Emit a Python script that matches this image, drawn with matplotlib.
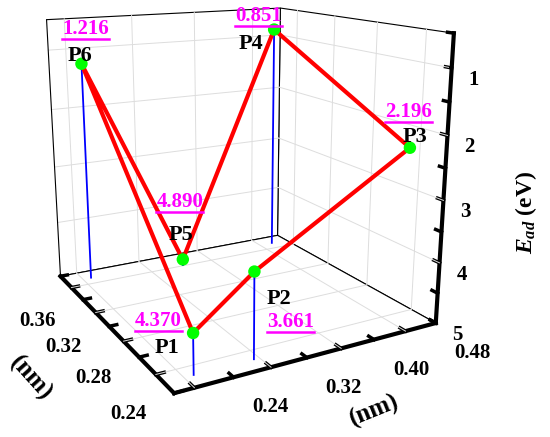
import matplotlib
matplotlib.use('Agg')
import matplotlib.pyplot as plt
from mpl_toolkits.mplot3d import proj3d
from matplotlib.lines import Line2D

plt.rcParams['font.family'] = ['Liberation Serif', 'DejaVu Serif']
plt.rcParams['font.weight'] = 'bold'
plt.rcParams['mathtext.fontset'] = 'custom'
plt.rcParams['mathtext.it'] = 'Liberation Serif:italic:bold'
plt.rcParams['mathtext.rm'] = 'Liberation Serif:bold'
for a in ['xtick', 'ytick']:
    plt.rcParams[a + '.major.width'] = 2.5
    plt.rcParams[a + '.color'] = 'black'

# adsorption sites: position (nm) and adsorption energy (eV)
names = ['P1', 'P2', 'P3', 'P4', 'P5', 'P6']
x_nm = [0.21, 0.274, 0.45, 0.458, 0.322, 0.21]
y_nm = [0.251, 0.251, 0.25, 0.389, 0.381, 0.389]
e_ad = [4.370, 3.661, 2.196, 0.851, 4.890, 1.216]
has_drop = [True, True, False, True, True, True]

x_ticks = [0.20, 0.24, 0.28, 0.32, 0.36, 0.40, 0.44, 0.48]
x_ticklabels = ['', '0.24', '', '0.32', '', '0.40', '', '0.48']
y_ticks = [0.24, 0.26, 0.28, 0.30, 0.32, 0.34, 0.36, 0.38, 0.40]
y_ticklabels = ['0.24', '', '0.28', '', '0.32', '', '0.36', '', '']
z_ticks = [0.5, 1, 1.5, 2, 2.5, 3, 3.5, 4, 4.5, 5]
z_ticklabels = ['', '1', '', '2', '', '3', '', '4', '', '5']
x_grid = [0.20, 0.28, 0.36, 0.44]
y_grid = [0.26, 0.30, 0.34, 0.38]
z_grid = [1, 2, 3, 4]

# label offsets in pixels from the dot (value label, name label)
val_off = [(-35, 12), (36, -50), (-1, 36), (-16, 14), (-3, 57), (4, 35)]
name_off = [(-26, -15), (25, -27), (5, 11), (-23, -14), (-2, 24), (-1, 8)]
# tick label offsets in pixels from the tick on the axis line
x_lab_off = (37, -30)
y_lab_off = (-46, -21)
z_lab_off = (22, -12)

xlim = (0.18, 0.48)
ylim = (0.24, 0.40)
zlim = (5, 0.5)

fig = plt.figure(figsize=(5.5, 4.37), dpi=100)
ax = fig.add_axes([-0.081, 0.103, 1.0, 1.0], projection='3d')
ax.computed_zorder = False
ax.set_proj_type('persp', focal_length=0.38)
ax.view_init(elev=15, azim=-119)
ax.set_box_aspect((1.05, 1.1, 1.05), zoom=1.1)

ax.set_xlim(*xlim)
ax.set_ylim(*ylim)
ax.set_zlim(*zlim)
ax.set_xticks(x_ticks)
ax.set_xticklabels([''] * len(x_ticks))
ax.set_yticks(y_ticks)
ax.set_yticklabels([''] * len(y_ticks))
ax.set_zticks(z_ticks)
ax.set_zticklabels([''] * len(z_ticks))
ax.grid(False)
ax.zaxis.set_ticks_position('lower')
ax.zaxis.set_label_position('lower')

for axis in [ax.xaxis, ax.yaxis, ax.zaxis]:
    axis.set_pane_color((1, 1, 1, 1))
    axis.pane.set_edgecolor('black')
    axis.pane.set_linewidth(0.8)
    axis.line.set_linewidth(3)
    axis.line.set_color('black')
    axis._axinfo['tick']['inward_factor'] = 0.0
    axis._axinfo['tick']['outward_factor'] = 0.35

# light grid on the back walls and floor
gc = dict(color='#dddddd', lw=0.7, zorder=0.5)
for gx in x_grid:
    ax.plot([gx, gx], [ylim[0], ylim[1]], [zlim[0], zlim[0]], **gc)
    ax.plot([gx, gx], [ylim[1], ylim[1]], [zlim[0], zlim[1]], **gc)
for gy in y_grid:
    ax.plot([xlim[0], xlim[1]], [gy, gy], [zlim[0], zlim[0]], **gc)
    ax.plot([xlim[1], xlim[1]], [gy, gy], [zlim[0], zlim[1]], **gc)
for gz in z_grid:
    ax.plot([xlim[0], xlim[1]], [ylim[1], ylim[1]], [gz, gz], **gc)
    ax.plot([xlim[1], xlim[1]], [ylim[0], ylim[1]], [gz, gz], **gc)
# thin box edge at the far left
ax.plot([xlim[0], xlim[0]], [ylim[1], ylim[1]], [zlim[0], zlim[1]],
        color='black', lw=0.8, zorder=0.6)

for i in range(len(names)):
    if has_drop[i]:
        ax.plot([x_nm[i], x_nm[i]], [y_nm[i], y_nm[i]], [e_ad[i], zlim[0]],
                color='#0000ff', lw=1.3, zorder=1)

px = x_nm + [x_nm[0]]
py = y_nm + [y_nm[0]]
pz = e_ad + [e_ad[0]]
ax.plot(px, py, pz, color='#ff0000', lw=3, zorder=2, solid_capstyle='round')
ax.scatter(x_nm, y_nm, e_ad, s=80, color='#00ff00', depthshade=False,
           edgecolors='none', zorder=3)

fig.canvas.draw()
M = ax.get_proj()
renderer = fig.canvas.get_renderer()


def label_at(x, y, z, text, off, **kw):
    x2, y2, _ = proj3d.proj_transform(x, y, z, M)
    return ax.annotate(text, xy=(x2, y2), xytext=off,
                       textcoords='offset pixels', ha='center', va='center',
                       fontweight='bold', annotation_clip=False, **kw)


# tick labels
for v, s in zip(x_ticks, x_ticklabels):
    if s:
        label_at(v, ylim[0], zlim[0], s, x_lab_off, fontsize=15)
for v, s in zip(y_ticks, y_ticklabels):
    if s:
        label_at(xlim[0], v, zlim[0], s, y_lab_off, fontsize=15)
for v, s in zip(z_ticks, z_ticklabels):
    if s:
        label_at(xlim[1], ylim[0], v, s, z_lab_off, fontsize=15)

# value and site labels
for i in range(len(names)):
    t = label_at(x_nm[i], y_nm[i], e_ad[i], '%.3f' % e_ad[i], val_off[i],
                 color='#ff00ff', fontsize=15)
    label_at(x_nm[i], y_nm[i], e_ad[i], names[i], name_off[i],
             color='black', fontsize=16)
    bb = t.get_window_extent(renderer)
    yc = (bb.y0 + bb.y1) / 2 - 10
    fig.add_artist(Line2D([bb.x0 / 550, bb.x1 / 550], [yc / 437, yc / 437],
                          color='#ff00ff', lw=1.8))

fig.text(0.055, 0.135, '(nm)', rotation=-48, fontsize=18, fontweight='bold',
         ha='center', va='center')
fig.text(0.68, 0.06, '(nm)', rotation=22, fontsize=18, fontweight='bold',
         ha='center', va='center')
fig.text(0.956, 0.513, r'$E_{ad}$ (eV)', rotation=90, fontsize=17,
         fontweight='bold', ha='center', va='center')

fig.savefig('out.png', dpi=100)
